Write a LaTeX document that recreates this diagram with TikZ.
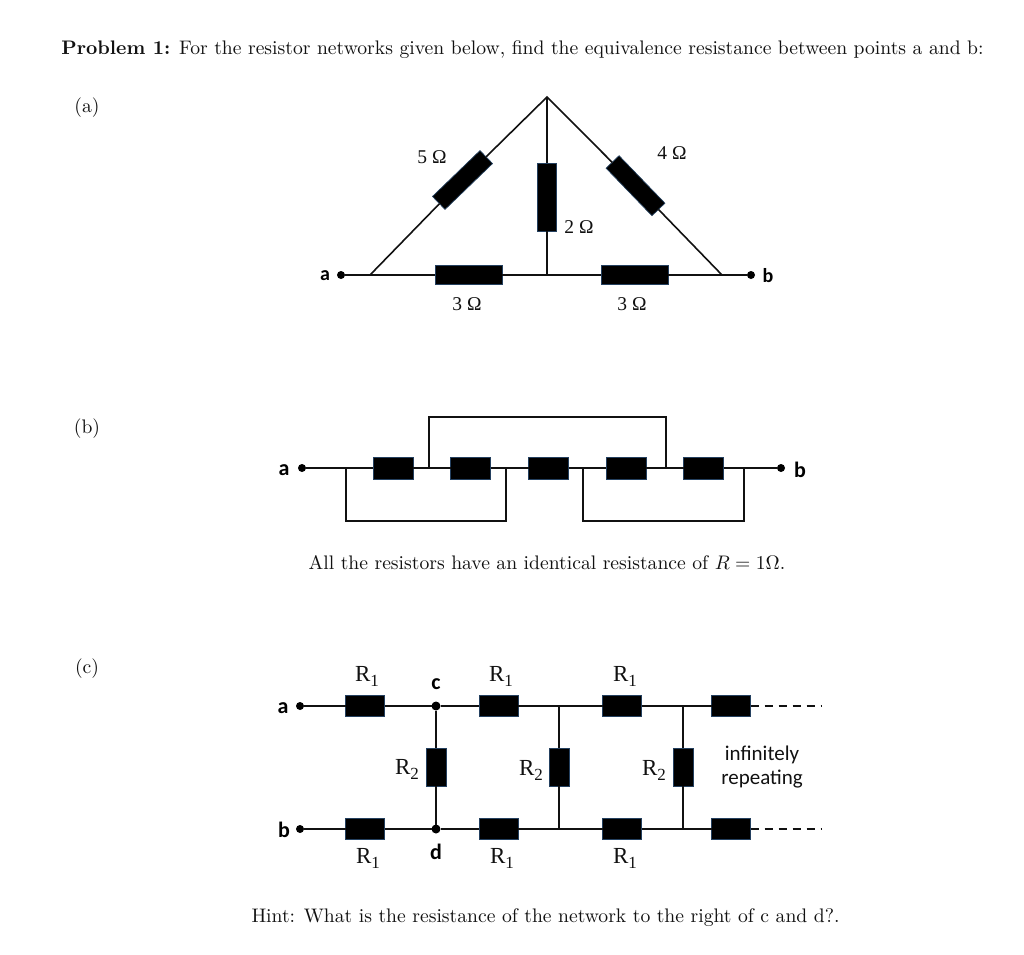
\documentclass[tikz,border=0pt]{standalone}
\usepackage{fontspec}
\newfontfamily\lblfont{Carlito}
\newfontfamily\valfont{Liberation Serif}
\definecolor{resedge}{HTML}{24405F}
\definecolor{inkc}{HTML}{111111}
\tikzset{
  wire/.style={line width=1.6pt,draw=inkc},
  wireb/.style={line width=2pt,draw=inkc},
  dashwire/.style={line width=1.6pt,draw=inkc,dash pattern=on 8pt off 6pt},
  res/.style={draw=resedge,fill=black,line width=0.7pt,inner sep=0pt,outer sep=0pt,minimum width=#1,minimum height=19pt},
  res/.default=39pt,
  vres/.style={draw=resedge,fill=black,line width=0.7pt,inner sep=0pt,outer sep=0pt,minimum width=20pt,minimum height=#1},
  vres/.default=38pt,
  dot/.style={circle,fill=black,inner sep=0pt,outer sep=0pt,minimum size=8pt},
  term/.style={font=\lblfont\bfseries\fontsize{22}{24}\selectfont,inner sep=0pt},
  val/.style={font=\valfont\fontsize{19.5}{21}\selectfont,inner sep=0pt,text=inkc},
  rlab/.style={font=\valfont\fontsize{23}{25}\selectfont,inner sep=0pt,text=inkc},
  body/.style={font=\fontsize{10}{12}\selectfont,scale=1.962,inner sep=0pt,text=inkc},
  note/.style={font=\lblfont\fontsize{21}{24}\selectfont,inner sep=0pt,text=inkc},
}
\newcommand{\Rsub}[1]{R\raisebox{-0.22em}{\fontsize{17}{19}\selectfont #1}}
\begin{document}
\begin{tikzpicture}[x=1pt,y=-1pt]
\useasboundingbox[fill=white] (0,0) rectangle (1024,954);
% text
\node[body,anchor=west] (title) at (61,50) {\textbf{Problem 1:} For the resistor networks given below, find the equivalence resistance between points a and b:};
\node[body] (la) at (87,108) {(a)};
\node[body] (lb) at (87,429) {(b)};
\node[body] (lc) at (87,669) {(c)};
\node[body] (allres) at (547,562.5) {All the resistors have an identical resistance of $R=1\Omega$.};
\node[body] (hint) at (545.5,918) {Hint: What is the resistance of the network to the right of c and d?.};
% (a)
\node[dot] (aa) at (341,275) {};
\node[dot] (ab) at (751,275) {};
\node[term,font=\lblfont\bfseries\fontsize{20}{22}\selectfont] (aat) at (325,276) {a};
\node[term,font=\lblfont\bfseries\fontsize{20}{22}\selectfont] (abt) at (768,276) {b};
\coordinate (aL) at (370,275);
\coordinate (aR) at (722,275);
\coordinate (aM) at (547,275);
\coordinate (aT) at (547,97);
\node[res=66pt,rotate=44,minimum height=18pt] (r5) at (462.5,180) {};
\node[res=66pt,rotate=-46,minimum height=18pt] (r4) at (635.5,185.7) {};
\node[vres=68pt,minimum width=19pt] (r2) at (547,197) {};
\node[res=67pt] (r3a) at (468.5,275) {};
\node[res=67pt] (r3b) at (634.5,275) {};
\draw[wire] (aa) -- (r3a) -- (aM) -- (r3b) -- (ab);
\draw[wire] (aL) -- (r5) -- (aT) -- (r4) -- (aR);
\draw[wire] (aT) -- (r2) -- (aM);
\node[val] (v5) at (432,157) {5 Ω};
\node[val] (v4) at (672,153) {4 Ω};
\node[val] (v2) at (579,227) {2 Ω};
\node[val] (v3a) at (467,304) {3 Ω};
\node[val] (v3b) at (632,304) {3 Ω};
% (b)
\node[dot] (ba) at (302,468) {};
\node[dot] (bb) at (781,468) {};
\node[term] (bat) at (284,470) {a};
\node[term] (bbt) at (800,470) {b};
\node[res=40pt,minimum height=22pt] (b1) at (393,468) {};
\node[res=40pt,minimum height=22pt] (b2) at (470.5,468) {};
\node[res=40pt,minimum height=22pt] (b3) at (548.5,468) {};
\node[res=40pt,minimum height=22pt] (b4) at (626,468) {};
\node[res=40pt,minimum height=22pt] (b5) at (703.5,468) {};
\coordinate (j1) at (345.5,468);
\coordinate (j2) at (429,468);
\coordinate (j3) at (505.5,468);
\coordinate (j4) at (583,468);
\coordinate (j5) at (665.5,468);
\coordinate (j6) at (743.5,468);
\draw[wireb] (ba) -- (b1) -- (b2) -- (b3) -- (b4) -- (b5) -- (bb);
\draw[wireb] (j2) |- (548,417) -| (j5);
\draw[wireb] (j1) |- (425,520.5) -| (j3);
\draw[wireb] (j4) |- (663,520.5) -| (j6);
% (c)
\node[dot] (ca) at (300,706) {};
\node[dot] (cb) at (300,829) {};
\node[dot,minimum size=9pt] (cc) at (436,706) {};
\node[dot,minimum size=9pt] (cd) at (436,829) {};
\node[term] (cat) at (283,708) {a};
\node[term] (cbt) at (284,830) {b};
\node[term] (cct) at (436,684) {c};
\node[term] (cdt) at (436,852) {d};
\node[res=39pt,minimum height=21pt] (t1) at (365,706) {};
\node[res=39pt,minimum height=21pt] (t2) at (498.5,706) {};
\node[res=39pt,minimum height=21pt] (t3) at (622,706) {};
\node[res=39pt,minimum height=21pt] (t4) at (731,706) {};
\node[res=39pt,minimum height=21pt] (u1) at (365,829) {};
\node[res=39pt,minimum height=21pt] (u2) at (498.5,829) {};
\node[res=39pt,minimum height=21pt] (u3) at (622,829) {};
\node[res=39pt,minimum height=21pt] (u4) at (731,829) {};
\node[vres] (v1) at (436,767) {};
\node[vres] (v2c) at (559,767) {};
\node[vres] (v3) at (683,767) {};
\coordinate (tj2) at (559,706);
\coordinate (tj3) at (683,706);
\coordinate (uj2) at (559,829);
\coordinate (uj3) at (683,829);
\coordinate (tend) at (821,706);
\coordinate (uend) at (821,829);
\draw[wire] (ca) -- (t1) -- (cc) -- (t2) -- (tj2) -- (t3) -- (tj3) -- (t4);
\draw[wire] (cb) -- (u1) -- (cd) -- (u2) -- (uj2) -- (u3) -- (uj3) -- (u4);
\draw[wire] (cc) -- (v1) -- (cd);
\draw[wire] (tj2) -- (v2c) -- (uj2);
\draw[wire] (tj3) -- (v3) -- (uj3);
\draw[dashwire] (t4) -- (tend);
\draw[dashwire] (u4) -- (uend);
\node[rlab] (l1) at (367,676) {\Rsub{1}};
\node[rlab] (l2) at (501,676) {\Rsub{1}};
\node[rlab] (l3) at (625,676) {\Rsub{1}};
\node[rlab] (l4) at (368,858) {\Rsub{1}};
\node[rlab] (l5) at (502,858) {\Rsub{1}};
\node[rlab] (l6) at (625,858) {\Rsub{1}};
\node[rlab] (m1) at (407,769) {\Rsub{2}};
\node[rlab] (m2) at (531,770) {\Rsub{2}};
\node[rlab] (m3) at (654,770) {\Rsub{2}};
\node[note] (n1) at (762,755) {infinitely};
\node[note] (n2) at (762,779) {repeating};
\end{tikzpicture}
\end{document}
